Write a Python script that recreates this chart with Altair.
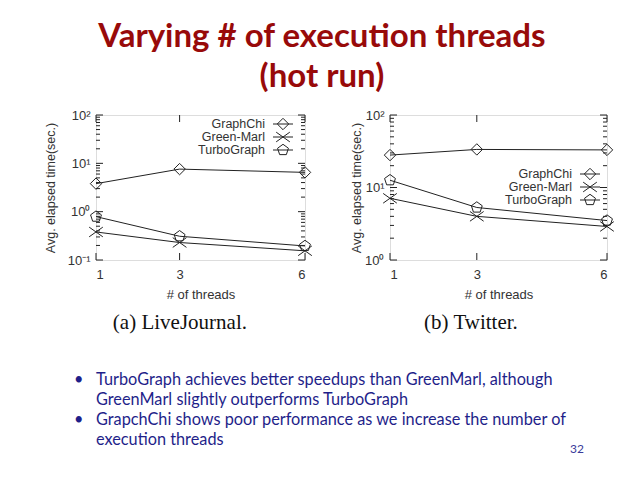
import altair as alt
import pandas as pd

# ---------------- data ----------------
threads = [1, 3, 6]
series_names = ["GraphChi", "Green-Marl", "TurboGraph"]

lj_graphchi = [3.8, 7.6, 6.5]
lj_greenmarl = [0.38, 0.23, 0.155]
lj_turbograph = [0.79, 0.31, 0.195]

tw_graphchi = [28.0, 33.5, 33.0]
tw_greenmarl = [7.1, 4.0, 2.9]
tw_turbograph = [12.6, 5.3, 3.5]

lj_decades = [0.1, 1, 10, 100]
tw_decades = [1, 10, 100]
decade_labels = {0.1: "10⁻¹", 1: "10⁰", 10: "10¹", 100: "10²"}

title_lines = ["Varying # of execution threads", "(hot run)"]
captions = ["(a) LiveJournal.", "(b) Twitter."]
bullet_lines = [
    "TurboGraph achieves better speedups than GreenMarl, although",
    "GreenMarl slightly outperforms TurboGraph",
    "GrapchChi shows poor performance as we increase the number of",
    "execution threads",
]
bullet_marks = ["•", "", "•", ""]
page_number = ["32"]

# ---------------- style ----------------
INK = "#222222"
AXIS_TXT = "#333333"
TITLE_RED = "#980A0A"
NAVY = "#1F1F8A"
SANS = "Liberation Sans"

shape_domain = series_names
shape_range = [
    "diamond",
    "M-1.2,-0.85L1.2,0.85M-1.2,0.85L1.2,-0.85",
    "M0,-1L0.951,-0.309L0.588,0.809L-0.588,0.809L-0.951,-0.309Z",
]


def label_expr(decades):
    parts = []
    for d in decades:
        parts.append(f"abs(datum.value - {d}) < {d} * 0.01 ? '{decade_labels[d]}'")
    return " : ".join(parts) + " : ''"


def panel(vals, decades, W, H, title_x, leg_x, leg_y, caption, cap_dx):
    df = pd.DataFrame({
        "threads": threads * 3,
        "series": [s for s in series_names for _ in threads],
        "time": vals[0] + vals[1] + vals[2],
    })
    ymin, ymax = decades[0], decades[-1]
    xenc = alt.X(
        "threads:Q",
        scale=alt.Scale(domain=[1, 6], nice=False, zero=False),
        axis=alt.Axis(
            values=threads, title="# of threads", grid=False, domain=False,
            ticks=False, tickSize=0, labelPadding=8, labelFont=SANS,
            labelFontSize=13, labelColor=AXIS_TXT, titleFont=SANS,
            titleFontSize=13, titleFontWeight="normal", titleColor=AXIS_TXT,
            titlePadding=7,
        ),
    )
    yenc = alt.Y(
        "time:Q",
        scale=alt.Scale(type="log", domain=[ymin, ymax], nice=False),
        axis=alt.Axis(
            values=decades, labelExpr=label_expr(decades),
            title="Avg. elapsed time(sec.)", grid=False, domain=False,
            ticks=False, tickSize=0, labelPadding=6, labelFont=SANS,
            labelFontSize=13, labelColor=AXIS_TXT, titleFont=SANS,
            titleFontSize=12.5, titleFontWeight="normal", titleColor=AXIS_TXT,
            titleX=title_x,
        ),
    )
    lines = alt.Chart(df).mark_line(color=INK, strokeWidth=1).encode(
        x=xenc, y=yenc, detail="series:N"
    )
    points = alt.Chart(df).mark_point(
        filled=False, color=INK, strokeWidth=1, size=130, opacity=1
    ).encode(
        x=xenc, y=yenc,
        shape=alt.Shape("series:N", scale=alt.Scale(domain=shape_domain, range=shape_range), legend=None),
    )

    # inward ticks (gnuplot style), positions from the scales
    major = pd.DataFrame({"time": decades})
    minor_vals = [k * d for d in decades[:-1] for k in range(2, 10)]
    minor = pd.DataFrame({"time": minor_vals})
    xt = pd.DataFrame({"threads": threads})
    layers = [lines, points]
    for dfv, ln in ((major, 7), (minor, 4)):
        layers.append(alt.Chart(dfv).mark_rule(color=INK, strokeWidth=1).encode(
            y=yenc, x=alt.value(0), x2=alt.value(ln)))
        layers.append(alt.Chart(dfv).mark_rule(color=INK, strokeWidth=1).encode(
            y=yenc, x=alt.value(W - ln), x2=alt.value(W)))
    layers.append(alt.Chart(xt).mark_rule(color=INK, strokeWidth=1).encode(
        x=xenc, y=alt.value(H), y2=alt.value(H - 7)))
    layers.append(alt.Chart(xt).mark_rule(color=INK, strokeWidth=1).encode(
        x=xenc, y=alt.value(0), y2=alt.value(7)))

    # key (gnuplot style: label, then line sample with marker)
    for i, s in enumerate(series_names):
        yy = leg_y + i * 13
        kdf = pd.DataFrame({"series": [s]})
        layers.append(alt.Chart(kdf).mark_text(
            align="right", baseline="middle", font=SANS, fontSize=12.5, color=AXIS_TXT
        ).encode(x=alt.value(leg_x), y=alt.value(yy), text="series:N"))
        layers.append(alt.Chart(kdf).mark_rule(color=INK, strokeWidth=1).encode(
            x=alt.value(leg_x + 8), x2=alt.value(leg_x + 28), y=alt.value(yy)))
        layers.append(alt.Chart(kdf).mark_point(
            filled=False, color=INK, strokeWidth=1, size=130, opacity=1
        ).encode(
            x=alt.value(leg_x + 18), y=alt.value(yy),
            shape=alt.Shape("series:N", scale=alt.Scale(domain=shape_domain, range=shape_range), legend=None),
        ))

    return alt.layer(*layers).properties(
        width=W, height=H,
        title=alt.TitleParams(
            caption, orient="bottom", anchor="middle", frame="bounds",
            font="Liberation Serif", fontSize=21, fontWeight="normal",
            color="#111111", offset=11, dx=cap_dx,
        ),
    )


left = panel([lj_graphchi, lj_greenmarl, lj_turbograph], lj_decades,
             209, 145, -39, 169, 9, captions[0], 1)
right = panel([tw_graphchi, tw_greenmarl, tw_turbograph], tw_decades,
              217, 145, -27, 182, 59, captions[1], -12)

bdf = pd.DataFrame({"row": [0, 1, 2, 3], "text": bullet_lines, "mark": bullet_marks})
by = alt.Y("row:Q", scale=alt.Scale(domain=[0, 3], range=[0, 60]), axis=None)
btext = alt.Chart(bdf).mark_text(
    align="left", baseline="alphabetic", font="Lato", fontSize=16.3, color=NAVY
).encode(x=alt.value(0), y=by, text="text:N")
bdots = alt.Chart(bdf).mark_text(
    align="left", baseline="alphabetic", font="Lato", fontSize=16.3, color=NAVY
).encode(x=alt.value(-22), y=by, text="mark:N")
pnum = alt.Chart(pd.DataFrame({"p": page_number})).mark_text(
    align="right", baseline="alphabetic", font="Lato", fontSize=12, color="#3A3A9A"
).encode(x=alt.value(488), y=alt.value(68), text="p:N")
bullets = alt.layer(btext, bdots, pnum).properties(
    width=500, height=70, view=alt.ViewBackground(stroke="transparent")
)

chart = alt.vconcat(
    alt.hconcat(left, right, spacing=34),
    bullets,
    spacing=37,
).properties(
    title=alt.TitleParams(
        title_lines, anchor="middle", font="Lato", fontSize=33, fontWeight="bold",
        color=TITLE_RED, lineHeight=40, offset=15, dx=-8,
    ),
    padding={"left": 35, "top": 12, "right": 0, "bottom": 0},
).configure_view(stroke=INK, strokeWidth=1).configure(background="white")

chart.save("out.html", embed_options={"renderer": "svg", "actions": False})
